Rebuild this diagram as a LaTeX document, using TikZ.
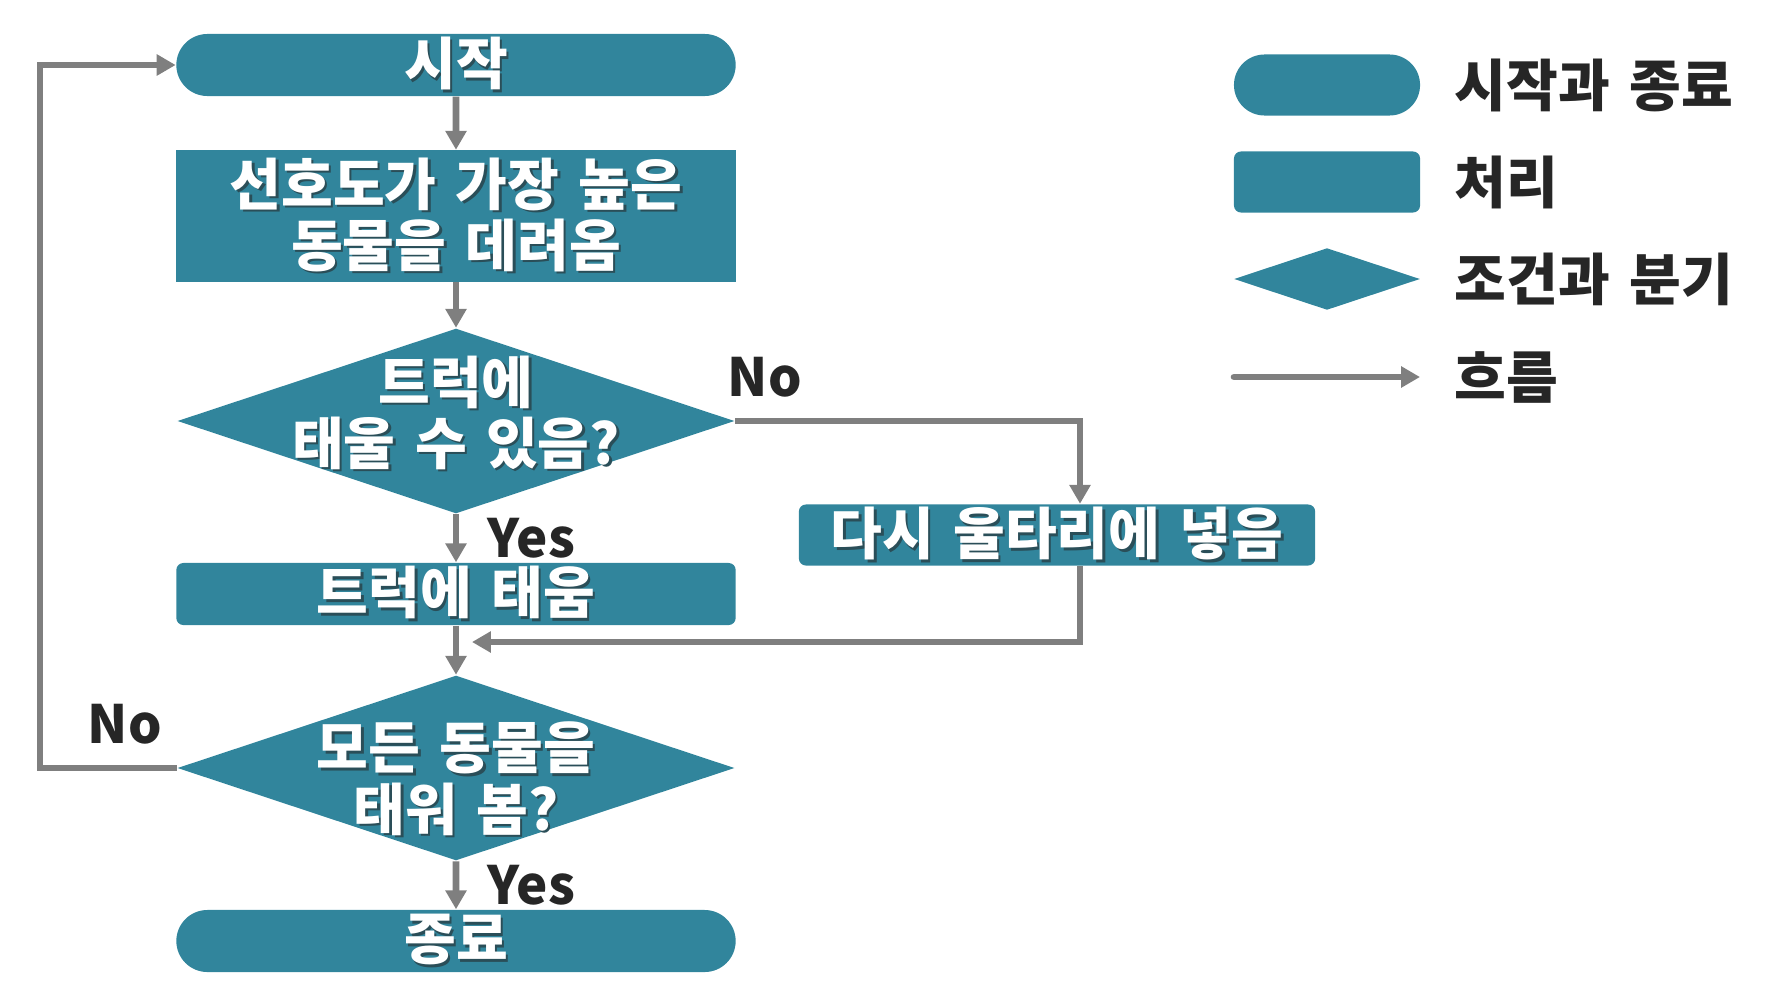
\documentclass[tikz,border=0pt]{standalone}
\usepackage{fontspec}
\setmainfont{Noto Sans CJK KR}[WordSpace=1.5]
\usetikzlibrary{arrows.meta,shapes.geometric,shapes.misc}
\definecolor{boxfill}{HTML}{31859C}
\definecolor{ink}{HTML}{262626}
\definecolor{flowgray}{HTML}{7F7F7F}
\definecolor{shade}{HTML}{2A4E58}
\newcommand\shd[1]{\leavevmode\rlap{\kern0.7pt\raisebox{-0.7pt}{\textcolor{shade}{#1}}}#1}
\tikzset{
  boxtext/.style={text=white,font=\fontsize{16}{17.4}\selectfont\bfseries,align=center},
  terminal/.style={rounded rectangle,fill=boxfill,minimum width=5.59cm,minimum height=0.62cm,inner sep=0pt,boxtext},
  process/.style={rectangle,fill=boxfill,inner sep=0pt,boxtext},
  decision/.style={diamond,fill=boxfill,minimum width=5.57cm,minimum height=1.85cm,inner sep=0pt},
  flow/.style={draw=flowgray,line width=1.9pt,-{Triangle[length=5.4pt,width=5.8pt]}},
  lbl/.style={text=ink,font=\fontsize{15}{17}\selectfont\bfseries,inner sep=1pt},
  legtext/.style={text=ink,font=\fontsize{16}{18}\selectfont\bfseries,anchor=west,inner sep=0pt}}

\begin{document}
\begin{tikzpicture}[x=0.01cm,y=-0.01cm]
\useasboundingbox (0,0) rectangle (1770,1000);
\node[terminal] (start) at (456,65) {\shd{시작}};
\node[process,minimum width=5.59cm,minimum height=1.31cm] (pick) at (456,216) {\shd{선호도가 가장 높은}\\\shd{동물을 데려옴}};
\node[decision,label={[boxtext,yshift=0.07cm]center:\shd{트럭에}\\\shd{태울 수 있음?}}] (canfit) at (456,421) {};
\node[process,minimum width=5.16cm,minimum height=0.61cm,rounded corners=0.07cm] (retry) at (1057,535) {\shd{다시 울타리에 넣음}};
\node[process,minimum width=5.59cm,minimum height=0.62cm,rounded corners=0.07cm] (load) at (456,594) {\shd{트럭에 태움}};
\node[decision,label={[boxtext,yshift=-0.12cm]center:\shd{모든 동물을}\\\shd{태워 봄?}}] (alldone) at (456,768) {};
\node[terminal] (stop) at (456,941) {\shd{종료}};
\coordinate (nocorner) at (1080,421);
\coordinate (mergein) at (472,642);
\coordinate (loopback) at (40,768);
\draw[flow] (start) -- (pick);
\draw[flow] (pick) -- (canfit);
\draw[flow] (canfit.east) -- node[lbl,above=0.17cm,pos=0.085] {No} (nocorner) -- (retry.north -| nocorner);
\draw[flow] (canfit) -- node[lbl,right=0.25cm] {Yes} (load);
\draw[flow] (retry.south -| nocorner) |- (mergein);
\draw[flow] (load) -- (alldone);
\draw[flow] (alldone.west) -- node[lbl,above=0.17cm,pos=0.38] {No} (loopback) |- (start.west);
\draw[flow] (alldone) -- node[lbl,right=0.25cm] {Yes} (stop);
\node[terminal,minimum width=1.86cm,minimum height=0.61cm] (legterm) at (1327,85) {};
\node[process,minimum width=1.86cm,minimum height=0.61cm,rounded corners=0.07cm] (legproc) at (1327,182) {};
\node[decision,minimum width=1.86cm,minimum height=0.62cm] (legdec) at (1327,279) {};
\coordinate (legfrom) at (1234,377);
\coordinate (legto) at (1420,377);
\draw[flow,line cap=round] (legfrom) -- (legto);
\node[legtext] (legterm-t) at (1454,85) {시작과 종료};
\node[legtext] (legproc-t) at (1454,182) {처리};
\node[legtext] (legdec-t) at (1454,279) {조건과 분기};
\node[legtext] (legflow-t) at (1454,377) {흐름};
\end{tikzpicture}
\end{document}
